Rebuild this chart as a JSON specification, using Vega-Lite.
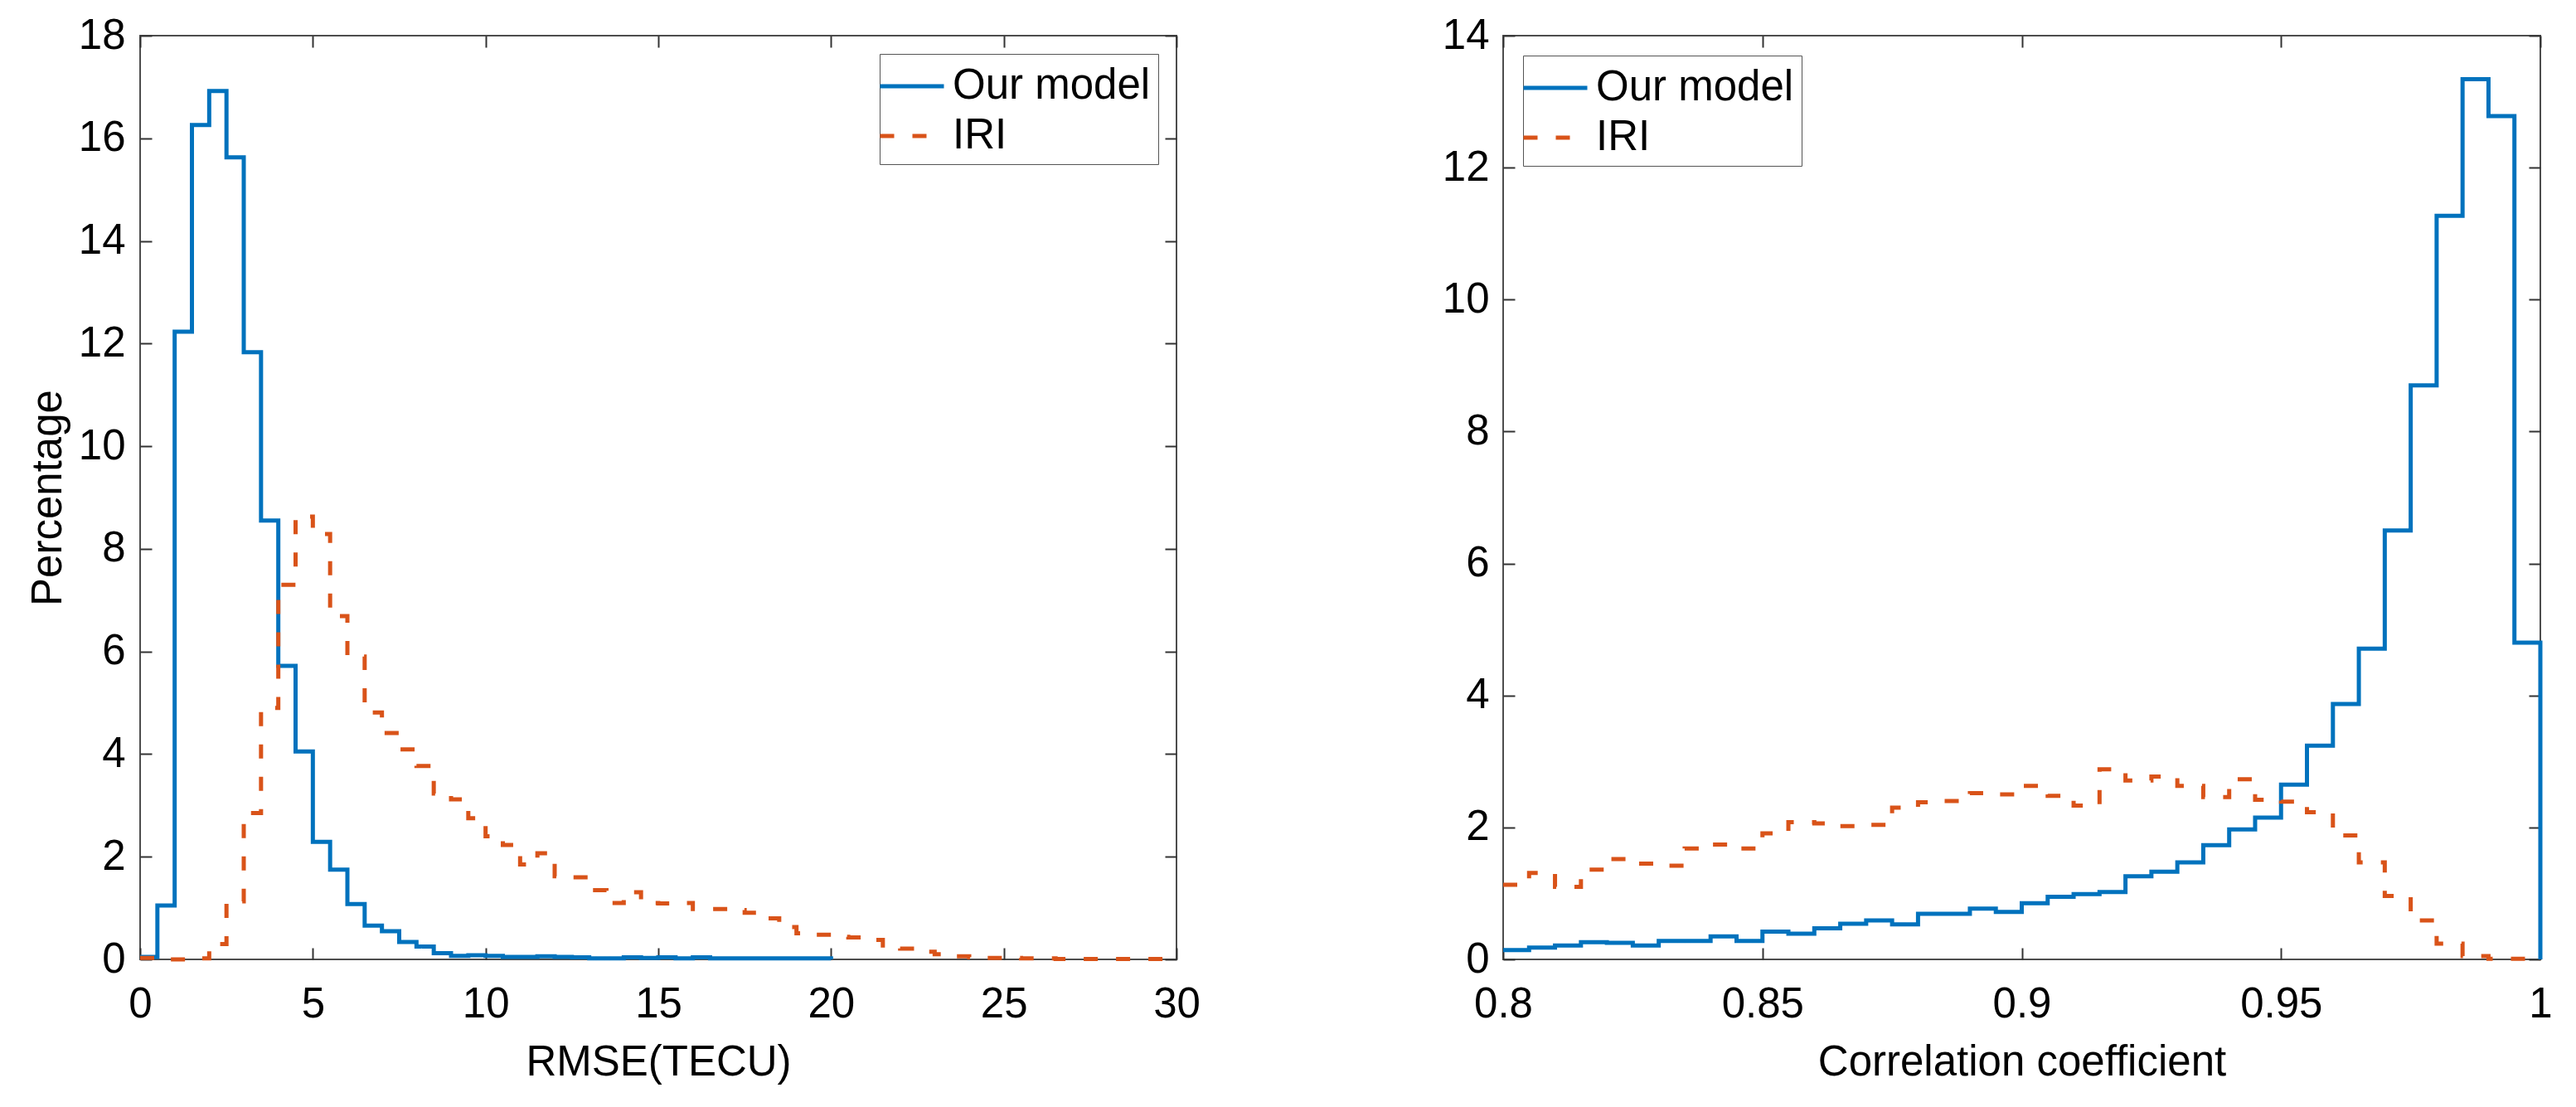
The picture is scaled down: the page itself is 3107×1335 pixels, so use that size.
{
  "$schema": "https://vega.github.io/schema/vega-lite/v6.json",
  "background": "white",
  "padding": {"left": 31, "top": 16, "right": 10, "bottom": 10},
  "bounds": "flush",
  "spacing": 394,
  "config": {
    "font": "Liberation Sans",
    "view": {"stroke": "#4d4d4d", "strokeWidth": 2},
    "axis": {
      "grid": false, "domain": false, "tickSize": -14, "tickWidth": 2, "tickColor": "#333333",
      "labelFont": "Liberation Sans", "labelFontSize": 51, "labelColor": "#000000",
      "titleFont": "Liberation Sans", "titleFontSize": 51, "titleColor": "#000000", "titleFontWeight": "normal",
      "labelOverlap": false, "labelFlush": false
    },
    "legend": {
      "title": null, "labelFont": "Liberation Sans", "labelFontSize": 51, "labelColor": "#000000",
      "symbolType": "M-1.4,0L1.4,0", "symbolSize": 3025, "symbolStrokeWidth": 5,
      "labelOffset": 19, "rowPadding": 5, "padding": 9,
      "strokeColor": "#555555", "fillColor": "white", "labelLimit": 500
    }
  },
  "datasets": {
    "rmse": [
      {"series": "Our model", "x": 0, "pct": 0.05}, {"series": "Our model", "x": 0.5, "pct": 1.05},
      {"series": "Our model", "x": 1, "pct": 12.23}, {"series": "Our model", "x": 1.5, "pct": 16.26},
      {"series": "Our model", "x": 2, "pct": 16.92}, {"series": "Our model", "x": 2.5, "pct": 15.63},
      {"series": "Our model", "x": 3, "pct": 11.83}, {"series": "Our model", "x": 3.5, "pct": 8.55},
      {"series": "Our model", "x": 4, "pct": 5.72}, {"series": "Our model", "x": 4.5, "pct": 4.05},
      {"series": "Our model", "x": 5, "pct": 2.29}, {"series": "Our model", "x": 5.5, "pct": 1.75},
      {"series": "Our model", "x": 6, "pct": 1.08}, {"series": "Our model", "x": 6.5, "pct": 0.66},
      {"series": "Our model", "x": 7, "pct": 0.55}, {"series": "Our model", "x": 7.5, "pct": 0.34},
      {"series": "Our model", "x": 8, "pct": 0.25}, {"series": "Our model", "x": 8.5, "pct": 0.12},
      {"series": "Our model", "x": 9, "pct": 0.07}, {"series": "Our model", "x": 9.5, "pct": 0.08},
      {"series": "Our model", "x": 10, "pct": 0.07}, {"series": "Our model", "x": 10.5, "pct": 0.05},
      {"series": "Our model", "x": 11, "pct": 0.05}, {"series": "Our model", "x": 11.5, "pct": 0.06},
      {"series": "Our model", "x": 12, "pct": 0.05}, {"series": "Our model", "x": 12.5, "pct": 0.04},
      {"series": "Our model", "x": 13, "pct": 0.02}, {"series": "Our model", "x": 13.5, "pct": 0.02},
      {"series": "Our model", "x": 14, "pct": 0.04}, {"series": "Our model", "x": 14.5, "pct": 0.03},
      {"series": "Our model", "x": 15, "pct": 0.04}, {"series": "Our model", "x": 15.5, "pct": 0.02},
      {"series": "Our model", "x": 16, "pct": 0.04}, {"series": "Our model", "x": 16.5, "pct": 0.02},
      {"series": "Our model", "x": 17, "pct": 0.02}, {"series": "Our model", "x": 17.5, "pct": 0.02},
      {"series": "Our model", "x": 18, "pct": 0.02}, {"series": "Our model", "x": 18.5, "pct": 0.02},
      {"series": "Our model", "x": 19, "pct": 0.02}, {"series": "Our model", "x": 19.5, "pct": 0.02},
      {"series": "Our model", "x": 20, "pct": 0},
      {"series": "IRI", "x": 0, "pct": 0.03}, {"series": "IRI", "x": 0.5, "pct": 0},
      {"series": "IRI", "x": 1, "pct": 0}, {"series": "IRI", "x": 1.5, "pct": 0.02},
      {"series": "IRI", "x": 2, "pct": 0.3}, {"series": "IRI", "x": 2.5, "pct": 1.13},
      {"series": "IRI", "x": 3, "pct": 2.85}, {"series": "IRI", "x": 3.5, "pct": 4.9},
      {"series": "IRI", "x": 4, "pct": 7.3}, {"series": "IRI", "x": 4.5, "pct": 8.63},
      {"series": "IRI", "x": 5, "pct": 8.29}, {"series": "IRI", "x": 5.5, "pct": 6.69},
      {"series": "IRI", "x": 6, "pct": 5.9}, {"series": "IRI", "x": 6.5, "pct": 4.81},
      {"series": "IRI", "x": 7, "pct": 4.41}, {"series": "IRI", "x": 7.5, "pct": 4.09},
      {"series": "IRI", "x": 8, "pct": 3.77}, {"series": "IRI", "x": 8.5, "pct": 3.23},
      {"series": "IRI", "x": 9, "pct": 3.12}, {"series": "IRI", "x": 9.5, "pct": 2.75},
      {"series": "IRI", "x": 10, "pct": 2.4}, {"series": "IRI", "x": 10.5, "pct": 2.23},
      {"series": "IRI", "x": 11, "pct": 1.85}, {"series": "IRI", "x": 11.5, "pct": 2.07},
      {"series": "IRI", "x": 12, "pct": 1.62}, {"series": "IRI", "x": 12.5, "pct": 1.6},
      {"series": "IRI", "x": 13, "pct": 1.35}, {"series": "IRI", "x": 13.5, "pct": 1.1},
      {"series": "IRI", "x": 14, "pct": 1.31}, {"series": "IRI", "x": 14.5, "pct": 1.1},
      {"series": "IRI", "x": 15, "pct": 1.09}, {"series": "IRI", "x": 15.5, "pct": 1.1},
      {"series": "IRI", "x": 16, "pct": 0.98}, {"series": "IRI", "x": 16.5, "pct": 0.98},
      {"series": "IRI", "x": 17, "pct": 0.96}, {"series": "IRI", "x": 17.5, "pct": 0.91},
      {"series": "IRI", "x": 18, "pct": 0.8}, {"series": "IRI", "x": 18.5, "pct": 0.63},
      {"series": "IRI", "x": 19, "pct": 0.51}, {"series": "IRI", "x": 19.5, "pct": 0.48},
      {"series": "IRI", "x": 20, "pct": 0.44}, {"series": "IRI", "x": 20.5, "pct": 0.43},
      {"series": "IRI", "x": 21, "pct": 0.38}, {"series": "IRI", "x": 21.5, "pct": 0.22},
      {"series": "IRI", "x": 22, "pct": 0.21}, {"series": "IRI", "x": 22.5, "pct": 0.15},
      {"series": "IRI", "x": 23, "pct": 0.1}, {"series": "IRI", "x": 23.5, "pct": 0.06},
      {"series": "IRI", "x": 24, "pct": 0.04}, {"series": "IRI", "x": 24.5, "pct": 0.03},
      {"series": "IRI", "x": 25, "pct": 0.03}, {"series": "IRI", "x": 25.5, "pct": 0.02},
      {"series": "IRI", "x": 26, "pct": 0.02}, {"series": "IRI", "x": 26.5, "pct": 0.01},
      {"series": "IRI", "x": 27, "pct": 0.01}, {"series": "IRI", "x": 27.5, "pct": 0.01},
      {"series": "IRI", "x": 28, "pct": 0.01}, {"series": "IRI", "x": 28.5, "pct": 0.01},
      {"series": "IRI", "x": 29, "pct": 0.01}, {"series": "IRI", "x": 29.5, "pct": 0.01},
      {"series": "IRI", "x": 30, "pct": 0}
    ],
    "corr": [
      {"series": "Our model", "x": 0.8, "pct": 0.14}, {"series": "Our model", "x": 0.805, "pct": 0.18},
      {"series": "Our model", "x": 0.81, "pct": 0.21}, {"series": "Our model", "x": 0.815, "pct": 0.26},
      {"series": "Our model", "x": 0.82, "pct": 0.25}, {"series": "Our model", "x": 0.825, "pct": 0.21},
      {"series": "Our model", "x": 0.83, "pct": 0.28}, {"series": "Our model", "x": 0.835, "pct": 0.28},
      {"series": "Our model", "x": 0.84, "pct": 0.35}, {"series": "Our model", "x": 0.845, "pct": 0.28},
      {"series": "Our model", "x": 0.85, "pct": 0.42}, {"series": "Our model", "x": 0.855, "pct": 0.39},
      {"series": "Our model", "x": 0.86, "pct": 0.47}, {"series": "Our model", "x": 0.865, "pct": 0.54},
      {"series": "Our model", "x": 0.87, "pct": 0.59}, {"series": "Our model", "x": 0.875, "pct": 0.53},
      {"series": "Our model", "x": 0.88, "pct": 0.69}, {"series": "Our model", "x": 0.885, "pct": 0.69},
      {"series": "Our model", "x": 0.89, "pct": 0.77}, {"series": "Our model", "x": 0.895, "pct": 0.72},
      {"series": "Our model", "x": 0.9, "pct": 0.85}, {"series": "Our model", "x": 0.905, "pct": 0.95},
      {"series": "Our model", "x": 0.91, "pct": 0.99}, {"series": "Our model", "x": 0.915, "pct": 1.02},
      {"series": "Our model", "x": 0.92, "pct": 1.26}, {"series": "Our model", "x": 0.925, "pct": 1.33},
      {"series": "Our model", "x": 0.93, "pct": 1.47}, {"series": "Our model", "x": 0.935, "pct": 1.73},
      {"series": "Our model", "x": 0.94, "pct": 1.97}, {"series": "Our model", "x": 0.945, "pct": 2.15},
      {"series": "Our model", "x": 0.95, "pct": 2.65}, {"series": "Our model", "x": 0.955, "pct": 3.24},
      {"series": "Our model", "x": 0.96, "pct": 3.87}, {"series": "Our model", "x": 0.965, "pct": 4.71},
      {"series": "Our model", "x": 0.97, "pct": 6.5}, {"series": "Our model", "x": 0.975, "pct": 8.7},
      {"series": "Our model", "x": 0.98, "pct": 11.27}, {"series": "Our model", "x": 0.985, "pct": 13.34},
      {"series": "Our model", "x": 0.99, "pct": 12.78}, {"series": "Our model", "x": 0.995, "pct": 4.8},
      {"series": "Our model", "x": 1.0, "pct": 0},
      {"series": "IRI", "x": 0.8, "pct": 1.13}, {"series": "IRI", "x": 0.805, "pct": 1.31},
      {"series": "IRI", "x": 0.81, "pct": 1.1}, {"series": "IRI", "x": 0.815, "pct": 1.36},
      {"series": "IRI", "x": 0.82, "pct": 1.52}, {"series": "IRI", "x": 0.825, "pct": 1.45},
      {"series": "IRI", "x": 0.83, "pct": 1.42}, {"series": "IRI", "x": 0.835, "pct": 1.68},
      {"series": "IRI", "x": 0.84, "pct": 1.74}, {"series": "IRI", "x": 0.845, "pct": 1.68},
      {"series": "IRI", "x": 0.85, "pct": 1.91}, {"series": "IRI", "x": 0.855, "pct": 2.08},
      {"series": "IRI", "x": 0.86, "pct": 2.06}, {"series": "IRI", "x": 0.865, "pct": 2.02},
      {"series": "IRI", "x": 0.87, "pct": 2.04}, {"series": "IRI", "x": 0.875, "pct": 2.3},
      {"series": "IRI", "x": 0.88, "pct": 2.38}, {"series": "IRI", "x": 0.885, "pct": 2.4},
      {"series": "IRI", "x": 0.89, "pct": 2.52}, {"series": "IRI", "x": 0.895, "pct": 2.5},
      {"series": "IRI", "x": 0.9, "pct": 2.63}, {"series": "IRI", "x": 0.905, "pct": 2.48},
      {"series": "IRI", "x": 0.91, "pct": 2.33}, {"series": "IRI", "x": 0.915, "pct": 2.88},
      {"series": "IRI", "x": 0.92, "pct": 2.71}, {"series": "IRI", "x": 0.925, "pct": 2.77},
      {"series": "IRI", "x": 0.93, "pct": 2.63}, {"series": "IRI", "x": 0.935, "pct": 2.46},
      {"series": "IRI", "x": 0.94, "pct": 2.73}, {"series": "IRI", "x": 0.945, "pct": 2.42},
      {"series": "IRI", "x": 0.95, "pct": 2.39}, {"series": "IRI", "x": 0.955, "pct": 2.23},
      {"series": "IRI", "x": 0.96, "pct": 1.88}, {"series": "IRI", "x": 0.965, "pct": 1.47},
      {"series": "IRI", "x": 0.97, "pct": 0.96}, {"series": "IRI", "x": 0.975, "pct": 0.59},
      {"series": "IRI", "x": 0.98, "pct": 0.24}, {"series": "IRI", "x": 0.985, "pct": 0.05},
      {"series": "IRI", "x": 0.99, "pct": 0.01}, {"series": "IRI", "x": 0.995, "pct": 0.01},
      {"series": "IRI", "x": 1.0, "pct": 0}
    ]
  },
  "hconcat": [
    {
      "width": 1250,
      "height": 1114,
      "data": {"name": "rmse"},
      "layer": [
        {
          "transform": [{"filter": "datum.series === 'Our model'"}],
          "mark": {"type": "line", "interpolate": "step-after", "strokeWidth": 5},
          "encoding": {
            "x": {"field": "x", "type": "quantitative", "scale": {"domain": [0, 30], "nice": false},
              "axis": {"orient": "bottom", "values": [0, 5, 10, 15, 20, 25, 30], "labelPadding": 43, "title": "RMSE(TECU)", "titleY": 99, "titleBaseline": "top"}},
            "y": {"field": "pct", "type": "quantitative", "scale": {"domain": [0, 18], "nice": false},
              "axis": {"orient": "left", "values": [0, 2, 4, 6, 8, 10, 12, 14, 16, 18], "labelPadding": 32, "title": "Percentage", "titleX": -96, "titleBaseline": "alphabetic"}},
            "color": {"field": "series", "type": "nominal", "scale": {"domain": ["Our model", "IRI"], "range": ["#0072BD", "#D95319"]},
              "legend": {"orient": "top-right", "offset": 22}},
            "strokeDash": {"field": "series", "type": "nominal", "scale": {"domain": ["Our model", "IRI"], "range": [[1, 0], [17, 22]]},
              "legend": {"orient": "top-right", "offset": 22}}
          }
        },
        {
          "transform": [{"filter": "datum.series === 'IRI'"}],
          "mark": {"type": "line", "interpolate": "step-after", "strokeWidth": 5},
          "encoding": {
            "x": {"field": "x", "type": "quantitative",
              "axis": {"orient": "top", "values": [0, 5, 10, 15, 20, 25, 30], "labels": false, "title": null}},
            "y": {"field": "pct", "type": "quantitative",
              "axis": {"orient": "right", "values": [0, 2, 4, 6, 8, 10, 12, 14, 16, 18], "labels": false, "title": null}},
            "color": {"field": "series", "type": "nominal"},
            "strokeDash": {"field": "series", "type": "nominal"}
          }
        }
      ],
      "resolve": {"axis": {"x": "independent", "y": "independent"}}
    },
    {
      "width": 1251,
      "height": 1114,
      "data": {"name": "corr"},
      "layer": [
        {
          "transform": [{"filter": "datum.series === 'Our model'"}],
          "mark": {"type": "line", "interpolate": "step-after", "strokeWidth": 5},
          "encoding": {
            "x": {"field": "x", "type": "quantitative", "scale": {"domain": [0.8, 1], "nice": false, "zero": false},
              "axis": {"orient": "bottom", "values": [0.8, 0.85, 0.9, 0.95, 1], "format": "~g", "labelPadding": 43, "title": "Correlation coefficient", "titleY": 99, "titleBaseline": "top"}},
            "y": {"field": "pct", "type": "quantitative", "scale": {"domain": [0, 14], "nice": false},
              "axis": {"orient": "left", "values": [0, 2, 4, 6, 8, 10, 12, 14], "labelPadding": 31, "title": null}},
            "color": {"field": "series", "type": "nominal", "scale": {"domain": ["Our model", "IRI"], "range": ["#0072BD", "#D95319"]},
              "legend": {"orient": "top-left", "offset": 24}},
            "strokeDash": {"field": "series", "type": "nominal", "scale": {"domain": ["Our model", "IRI"], "range": [[1, 0], [17, 22]]},
              "legend": {"orient": "top-left", "offset": 24}}
          }
        },
        {
          "transform": [{"filter": "datum.series === 'IRI'"}],
          "mark": {"type": "line", "interpolate": "step-after", "strokeWidth": 5},
          "encoding": {
            "x": {"field": "x", "type": "quantitative",
              "axis": {"orient": "top", "values": [0.8, 0.85, 0.9, 0.95, 1], "labels": false, "title": null}},
            "y": {"field": "pct", "type": "quantitative",
              "axis": {"orient": "right", "values": [0, 2, 4, 6, 8, 10, 12, 14], "labels": false, "title": null}},
            "color": {"field": "series", "type": "nominal"},
            "strokeDash": {"field": "series", "type": "nominal"}
          }
        }
      ],
      "resolve": {"axis": {"x": "independent", "y": "independent"}}
    }
  ],
  "resolve": {"scale": {"color": "independent", "strokeDash": "independent"}}
}
